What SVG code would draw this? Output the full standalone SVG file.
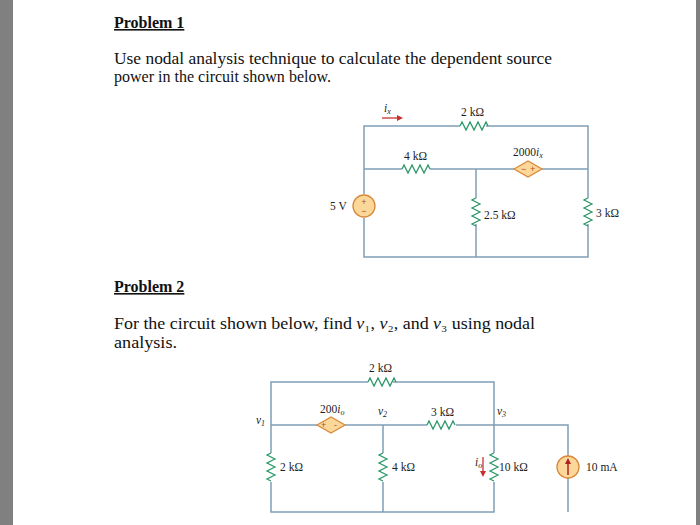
<svg xmlns="http://www.w3.org/2000/svg" width="700" height="525" viewBox="0 0 700 525">
<style>
.w{fill:none;stroke:#7f9fb5;stroke-width:1.5}
.r{fill:none;stroke:#2e9a6a;stroke-width:1.3}
.d{fill:#fbd89a;stroke:#d9893a;stroke-width:1.3}
.t{font-family:"Liberation Serif",serif;fill:#111}
.s{font-family:"Liberation Serif",serif;font-size:11.5px;fill:#222}
.i{font-style:italic}
</style>
<rect width="700" height="525" fill="#fff"/>
<rect x="0" y="0" width="13" height="525" fill="#808080"/>
<rect x="696" y="0" width="4" height="525" fill="#808080"/>
<text class="t" x="114" y="28" font-size="16" font-weight="bold" text-decoration="underline">Problem 1</text>
<text class="t" x="114" y="64" font-size="16" textLength="438" lengthAdjust="spacingAndGlyphs">Use nodal analysis technique to calculate the dependent source</text>
<text class="t" x="114" y="82" font-size="16" textLength="217" lengthAdjust="spacingAndGlyphs">power in the circuit shown below.</text>
<text class="t" x="114" y="292" font-size="16" font-weight="bold" text-decoration="underline">Problem 2</text>
<text class="t" x="114" y="329" font-size="16" textLength="421" lengthAdjust="spacingAndGlyphs">For the circuit shown below, find <tspan class="i">v</tspan>₁, <tspan class="i">v</tspan>₂, and <tspan class="i">v</tspan>₃ using nodal</text>
<text class="t" x="114" y="348" font-size="16" textLength="63" lengthAdjust="spacingAndGlyphs">analysis.</text>
<g id="connectors">
<path class="w" d="M364 194V126H460M486 126H588V198M588 224V257H364V218M364 169H402M430 169H514M542 169H588M476 169V198M476 224V257"/>
<path class="w" d="M271 453V382H368M393 382H494V453M494 482V512H271V482M271 425H317M345 425H427M456 425H568V456M568 478V512M383 425V453M383 482V512"/>
</g>
<g id="R1"><path class="r" d="M460 126l2 -4 4 8 4 -8 4 8 4 -8 4 8 4 -8 2 4"/><text class="s" x="461" y="116">2 kΩ</text></g>
<g id="R2"><path class="r" d="M402 169l2 -4 4 8 4 -8 4 8 4 -8 4 8 4 -8 2 4"/><text class="s" x="404" y="160">4 kΩ</text></g>
<g id="R3"><path class="r" d="M476 198l-4 2 8 4 -8 4 8 4 -8 4 8 4 -8 4 4 2"/><text class="s" x="484" y="219">2.5 kΩ</text></g>
<g id="R4"><path class="r" d="M588 198l-4 2 8 4 -8 4 8 4 -8 4 8 4 -8 4 4 2"/><text class="s" x="596" y="217">3 kΩ</text></g>
<g id="V5"><circle class="d" cx="364" cy="206" r="11"/><text x="364" y="205" font-family="Liberation Sans,sans-serif" font-size="9" fill="#b05020" text-anchor="middle">+</text><text x="364" y="214" font-family="Liberation Sans,sans-serif" font-size="9" fill="#b05020" text-anchor="middle">−</text><text class="s" x="330" y="210">5 V</text></g>
<g id="dep1"><path class="d" d="M514 169l14 -8 14 8 -14 8z"/><text x="521" y="172" font-family="Liberation Sans,sans-serif" font-size="9" fill="#b05020">−</text><text x="530" y="172" font-family="Liberation Sans,sans-serif" font-size="9" fill="#b05020">+</text><text class="s" x="513" y="156">2000<tspan class="i">i</tspan><tspan class="i" font-size="8" dy="2">x</tspan></text></g>
<g id="ix"><text class="s i" x="384" y="112">i<tspan font-size="8" dy="2">x</tspan></text><path d="M382 118H398" stroke="#c83030" stroke-width="1.3"/><path d="M403 118l-6 -3v6z" fill="#c83030"/></g>
<g id="R5"><path class="r" d="M368 382l2 -4 4 8 4 -8 4 8 4 -8 4 8 4 -8 2 4"/><text class="s" x="369" y="372">2 kΩ</text></g>
<g id="R6"><path class="r" d="M427 425l2 -4 4 8 4 -8 4 8 4 -8 4 8 4 -8 2 4"/><text class="s" x="431" y="416">3 kΩ</text></g>
<g id="R7"><path class="r" d="M271 453l-4 2 8 4 -8 4 8 4 -8 4 8 4 -8 4 4 2"/><text class="s" x="280" y="471">2 kΩ</text></g>
<g id="R8"><path class="r" d="M383 453l-4 2 8 4 -8 4 8 4 -8 4 8 4 -8 4 4 2"/><text class="s" x="392" y="471">4 kΩ</text></g>
<g id="R9"><path class="r" d="M494 453l-4 2 8 4 -8 4 8 4 -8 4 8 4 -8 4 4 2"/><text class="s" x="499" y="471">10 kΩ</text></g>
<g id="dep2"><path class="d" d="M317 425l14 -8 14 8 -14 8z"/><text x="321" y="428" font-family="Liberation Sans,sans-serif" font-size="9" fill="#b05020">+</text><text x="334" y="428" font-family="Liberation Sans,sans-serif" font-size="9" fill="#b05020">-</text><text class="s" x="320" y="413">200<tspan class="i">i</tspan><tspan class="i" font-size="8" dy="2">o</tspan></text></g>
<g id="I1"><circle class="d" cx="568" cy="467" r="11"/><path d="M568 475V463" stroke="#b02020" stroke-width="1.5"/><path d="M568 458l-3 6h6z" fill="#b02020"/><text class="s" x="586" y="471">10 mA</text></g>
<g id="io"><text class="s i" x="475" y="466">i<tspan font-size="8" dy="2">o</tspan></text><path d="M483 457V472" stroke="#c83030" stroke-width="1.3"/><path d="M483 477l-3 -6h6z" fill="#c83030"/></g>
<g id="nodes"><text class="s i" x="256" y="424">v<tspan font-size="8" dy="2">1</tspan></text><text class="s i" x="378" y="415">v<tspan font-size="8" dy="2">2</tspan></text><text class="s i" x="497" y="415">v<tspan font-size="8" dy="2">3</tspan></text></g>
</svg>
